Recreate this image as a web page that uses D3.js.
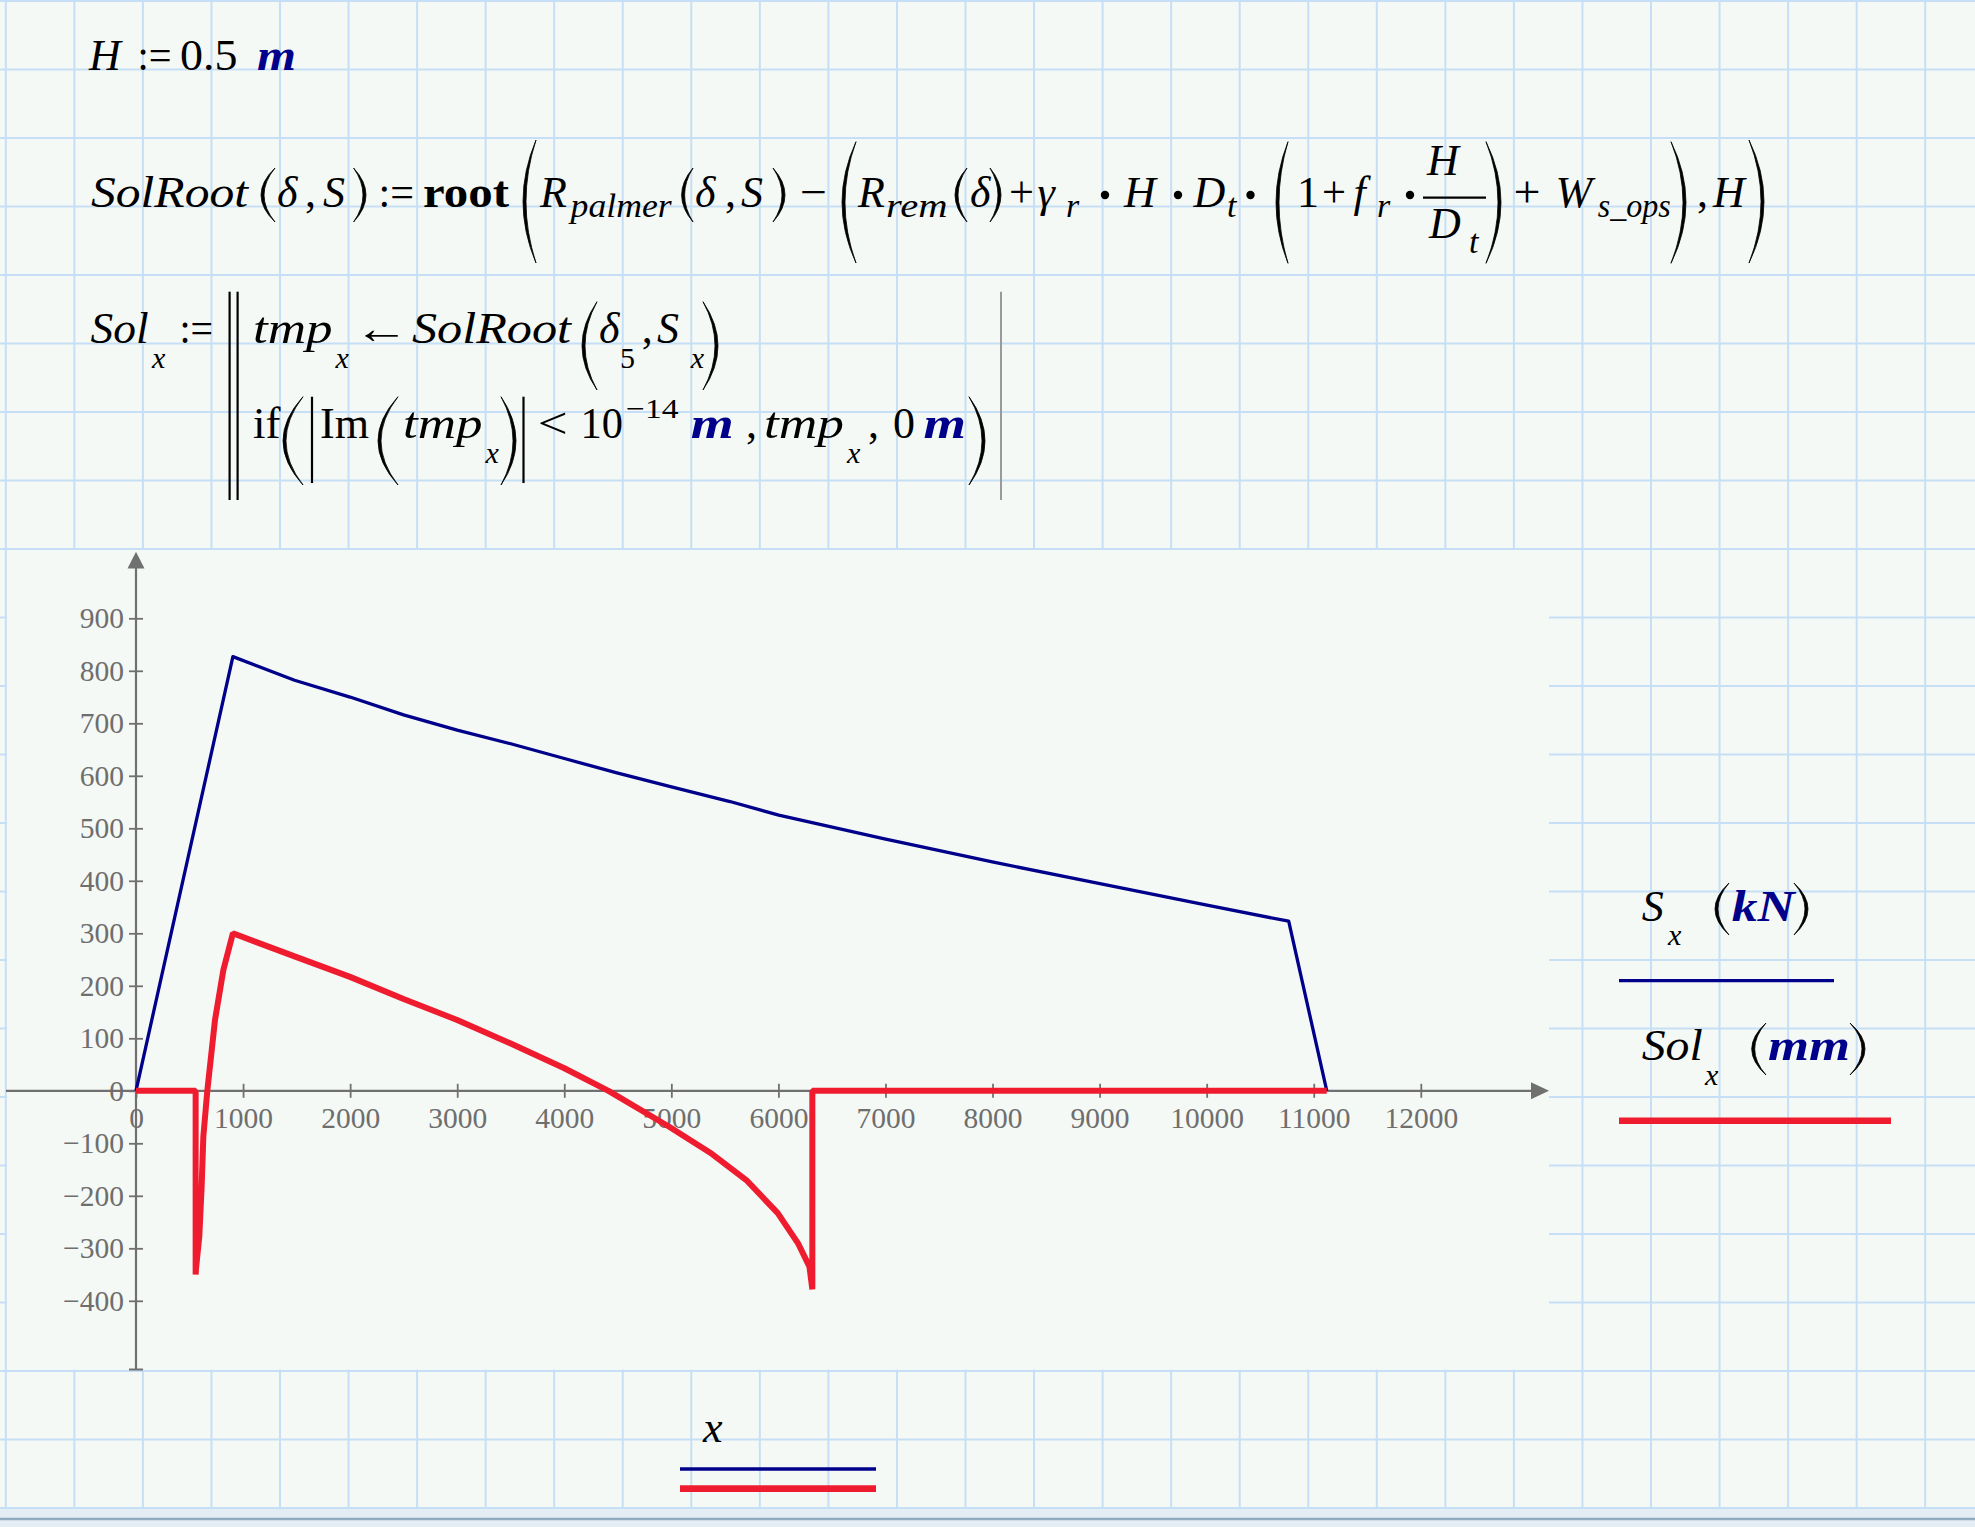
<!DOCTYPE html>
<html>
<head>
<meta charset="utf-8">
<script src="https://cdn.jsdelivr.net/npm/d3@7"></script>
<style>
  body { margin: 0; background: #f5f9f5; }
  svg { display: block; }
</style>
</head>
<body>
<svg id="sheet"></svg>
<script>
"use strict"

// S_x (kN)
const sPos = [0, 905, 1481, 1999, 2499, 3000, 3500, 4001, 4483, 5001, 5548, 6003, 6991, 7998, 8991, 9991, 10766, 11122]
const sVal = [0, 827, 782, 750, 716, 687, 661, 633, 606, 579, 551, 525, 480, 436, 395, 354, 323, 0]

// Sol_x (mm)
const solPos = [0, 557, 557, 560, 591, 613, 629, 666, 738, 816, 905, 1481, 1999, 2499, 3000, 3500, 4001, 4413, 4976, 5378, 5700, 5994, 6182, 6290, 6317, 6317, 11122]
const solVal = [0, 0, -350, -340, -278, -183, -87, 0, 135, 230, 300, 256, 217, 175, 135, 90, 43, 0, -68, -120, -170, -233, -290, -335, -378, 0, 0]

const xTicks = [0, 1000, 2000, 3000, 4000, 5000, 6000, 7000, 8000, 9000, 10000, 11000, 12000]
const yTicks = [-400, -300, -200, -100, 0, 100, 200, 300, 400, 500, 600, 700, 800, 900]

const W = 1975, H = 1527
const BG = "#f5f9f5", GRID = "#c6dff6", AXIS = "#707070"
const BLUE = "#00008a", RED = "#ef1c2f", UNIT = "#00008b"
const FONT = "'Liberation Serif', 'DejaVu Serif', serif"

const svg = d3.select("#sheet").attr("width", W).attr("height", H)
svg.append("rect").attr("width", W).attr("height", H).attr("fill", BG)

// worksheet grid
const grid = svg.append("g").attr("stroke", GRID).attr("stroke-width", 2)
d3.range(0, 29).forEach(k => {
    const gx = 5.8 + k * 68.55
    grid.append("line").attr("x1", gx).attr("x2", gx).attr("y1", 0).attr("y2", 1508)
})
d3.range(0, 23).forEach(k => {
    const gy = 0.9 + k * 68.5
    grid.append("line").attr("x1", 0).attr("x2", W).attr("y1", gy).attr("y2", gy)
})
// bottom of page
svg.append("rect").attr("x", 0).attr("y", 1509).attr("width", W).attr("height", 18).attr("fill", "#e4edf3")
svg.append("line").attr("x1", 0).attr("x2", W).attr("y1", 1519).attr("y2", 1519)
    .attr("stroke", "#8eabc1").attr("stroke-width", 2.5)

// ---------- math text helpers ----------
const math = svg.append("g").attr("font-family", FONT)

function put(s, x, y, o = {}) {
    const t = math.append("text").attr("x", x).attr("y", y).text(s)
        .attr("font-size", o.size || 44)
        .attr("font-style", o.it ? "italic" : "normal")
        .attr("font-weight", o.bold ? "bold" : "normal")
        .attr("fill", o.fill || "#000")
    if (o.w) t.attr("textLength", o.w).attr("lengthAdjust", "spacingAndGlyphs")
    return t
}

function paren(x0, x1, y0, y1, open, th = 3) {
    const ym = (y0 + y1) / 2
    const tip = open ? x1 : x0, belly = open ? x0 : x1
    const dir = open ? 1 : -1
    const cOut = 2 * belly - tip
    const cIn = 2 * (belly + dir * th) - tip
    math.append("path")
        .attr("d", `M${tip},${y0} Q${cOut},${ym} ${tip},${y1} Q${cIn},${ym} ${tip},${y0} Z`)
        .attr("fill", "#000").attr("stroke", "#000").attr("stroke-width", 0.8)
}

function vbar(x, y0, y1, col = "#000", w = 2.2) {
    math.append("line").attr("x1", x).attr("x2", x).attr("y1", y0).attr("y2", y1)
        .attr("stroke", col).attr("stroke-width", w)
}

function dot(cx, cy) {
    math.append("circle").attr("cx", cx).attr("cy", cy).attr("r", 4.2).attr("fill", "#000")
}

const it = { it: true }, sub = { it: true, size: 34 }, idx = { it: true, size: 30 }
const unit = { it: true, bold: true, fill: UNIT }

// H := 0.5 m
put("H", 89, 70, it)
put(":=", 137.5, 70, { w: 34 })
put("0.5", 180, 70, { w: 57.5 })
put("m", 257, 70, { ...unit, w: 39 })

// SolRoot(δ,S) := root(...)
let b = 207
put("SolRoot", 91, b, { it: true, w: 157 })
paren(261, 275, 168, 222, true)
put("δ", 277, b, it)
put(",", 305, b)
put("S", 323, b, it)
paren(353.6, 366, 168, 222, false)
put(":=", 378.6, b, { w: 35.5 })
put("root", 423, b, { bold: true, w: 86 })
paren(523, 536, 140, 263, true)
put("R", 540, b, it)
put("palmer", 570.6, 216.7, { ...sub, w: 101 })
paren(681.6, 693, 168, 222, true)
put("δ", 695, b, it)
put(",", 725, b)
put("S", 741, b, it)
paren(773, 785, 168, 222, false)
put("−", 800, b, { w: 27 })
paren(842, 856, 141.7, 263, true)
put("R", 858, b, it)
put("rem", 886, 216.7, { ...sub, w: 61.6 })
paren(955, 967, 168, 222, true)
put("δ", 970, b, it)
paren(990, 1001, 168, 222, false)
put("+", 1009, b, { w: 25 })
put("γ", 1037.5, b, it)
put("r", 1066, 216.7, sub)
dot(1105, 195)
put("H", 1124, b, it)
dot(1178, 195)
put("D", 1193.6, b, it)
put("t", 1227, 216.7, sub)
dot(1250.5, 195)
paren(1276, 1288, 141.7, 263.3, true)
put("1", 1297, b)
put("+", 1322, b, { w: 24 })
put("f", 1353.6, b, it)
put("r", 1377, 216.7, sub)
dot(1410, 195)
put("H", 1427, 175, it)
math.append("line").attr("x1", 1423).attr("x2", 1486).attr("y1", 197.7).attr("y2", 197.7)
    .attr("stroke", "#000").attr("stroke-width", 2.2)
put("D", 1429, 238, it)
put("t", 1469, 253, sub)
paren(1486, 1501, 141.7, 263.3, false)
put("+", 1513.5, b, { w: 27 })
put("W", 1555.6, b, it)
put("s_ops", 1597.7, 216.7, { ...sub, w: 73 })
paren(1671, 1686, 141.7, 263.3, false)
put(",", 1697, b)
put("H", 1713, b, it)
paren(1749, 1764, 140, 263, false)

// Sol_x := || tmp_x <- SolRoot(δ_5, S_x)
b = 342.7
put("Sol", 90.6, b, { it: true, w: 58 })
put("x", 152, 368, idx)
put(":=", 179.4, b, { w: 33.6 })
vbar(229.6, 291.7, 500)
vbar(237.6, 291.7, 500)
put("tmp", 253, b, { it: true, w: 79.6 })
put("x", 335.6, 368, idx)
put("←", 354, b, { w: 55 })
put("SolRoot", 412, b, { it: true, w: 159 })
paren(582, 597, 301.7, 390, true)
put("δ", 599, b, it)
put("5", 620, 368.3, { size: 30 })
put(",", 641.7, b)
put("S", 657, b, it)
put("x", 690.7, 368, idx)
paren(703, 718, 301.7, 390, false)

//    || if(|Im(tmp_x)| < 10^-14 m, tmp_x, 0 m)
b = 438.3
put("if", 253, b, { w: 27.5 })
paren(283, 303, 396.7, 485, true)
vbar(312, 396.7, 483)
put("Im", 320, b, { w: 49 })
paren(378, 398, 396.7, 485, true)
put("tmp", 403, b, { it: true, w: 79.5 })
put("x", 485.6, 463, idx)
paren(501, 516, 396.7, 485, false)
vbar(523.5, 396.7, 483)
put("<", 537.7, b, { w: 30 })
put("10", 580.5, b, { w: 42.5 })
put("−14", 626, 418, { size: 28, w: 52.5 })
put("m", 690.7, b, { ...unit, w: 43 })
put(",", 746, b)
put("tmp", 764, b, { it: true, w: 80 })
put("x", 847, 463, idx)
put(",", 868, b)
put("0", 893, b)
put("m", 923.5, b, { ...unit, w: 42.5 })
paren(969, 985, 396.7, 485, false)
vbar(1001, 291.7, 500, "#9a9a9a", 2)

// ---------- plot ----------
svg.append("rect").attr("x", 7).attr("y", 550).attr("width", 1542).attr("height", 819.5).attr("fill", BG)

const x = d3.scaleLinear().domain([0, 12000]).range([136, 1420.8])
const y = d3.scaleLinear().domain([-400, 900]).range([1300.8, 618.3])
const fmt = d3.format("d")

const plot = svg.append("g")

// axes lines + arrows
plot.append("line").attr("x1", 6).attr("x2", 1532).attr("y1", y(0)).attr("y2", y(0))
    .attr("stroke", AXIS).attr("stroke-width", 2.2)
plot.append("path").attr("d", `M1549,${y(0)} L1531,${y(0) - 8.5} L1531,${y(0) + 8.5} Z`).attr("fill", AXIS)
plot.append("line").attr("x1", x(0)).attr("x2", x(0)).attr("y1", 1370).attr("y2", 567)
    .attr("stroke", AXIS).attr("stroke-width", 2.2)
plot.append("path").attr("d", `M${x(0)},551.7 L${x(0) - 8.5},568.5 L${x(0) + 8.5},568.5 Z`).attr("fill", AXIS)
plot.append("line").attr("x1", x(0) - 7).attr("x2", x(0) + 7).attr("y1", 1369.5).attr("y2", 1369.5)
    .attr("stroke", AXIS).attr("stroke-width", 2)

const xAxis = plot.append("g").attr("transform", `translate(0,${y(0)})`)
    .call(d3.axisBottom(x).tickValues(xTicks).tickSize(7).tickPadding(9).tickFormat(fmt))
const yAxis = plot.append("g").attr("transform", `translate(${x(0)},0)`)
    .call(d3.axisLeft(y).tickValues(yTicks).tickSize(7).tickPadding(5).tickFormat(fmt))

;[xAxis, yAxis].forEach(g => {
    g.select(".domain").remove()
    g.selectAll(".tick line").attr("stroke", AXIS).attr("stroke-width", 1.8)
    g.selectAll(".tick text").attr("fill", "#6e6e6e").attr("font-size", 29.5).attr("font-family", FONT)
})
xAxis.selectAll(".tick line").attr("y1", -7)
yAxis.selectAll(".tick line").attr("x1", 7)

const line = d3.line().x(d => x(d[0])).y(d => y(d[1]))

plot.append("path").datum(d3.zip(sPos, sVal)).attr("d", line)
    .attr("fill", "none").attr("stroke", BLUE).attr("stroke-width", 3.3).attr("stroke-linejoin", "round")
plot.append("path").datum(d3.zip(solPos, solVal)).attr("d", line)
    .attr("fill", "none").attr("stroke", RED).attr("stroke-width", 6).attr("stroke-linejoin", "bevel")

// ---------- legends ----------
put("S", 1641.7, 921, it)
put("x", 1668, 945, idx)
paren(1715, 1729, 883, 935, true)
put("kN", 1731.7, 921, { ...unit, w: 63 })
paren(1794, 1808, 883, 935, false)
svg.append("line").attr("x1", 1619).attr("x2", 1834).attr("y1", 980.7).attr("y2", 980.7)
    .attr("stroke", BLUE).attr("stroke-width", 3.3)

put("Sol", 1641.7, 1060, { it: true, w: 61 })
put("x", 1705, 1085, idx)
paren(1751.7, 1766, 1023, 1075, true)
put("mm", 1768, 1060, { ...unit, w: 82 })
paren(1850, 1865, 1023, 1075, false)
svg.append("line").attr("x1", 1619).attr("x2", 1891).attr("y1", 1120.7).attr("y2", 1120.7)
    .attr("stroke", RED).attr("stroke-width", 6.5)

put("x", 703, 1441.7, it)
svg.append("line").attr("x1", 680).attr("x2", 876).attr("y1", 1469).attr("y2", 1469)
    .attr("stroke", BLUE).attr("stroke-width", 3.3)
svg.append("line").attr("x1", 680).attr("x2", 876).attr("y1", 1488.7).attr("y2", 1488.7)
    .attr("stroke", RED).attr("stroke-width", 6.7)
</script>
</body>
</html>
